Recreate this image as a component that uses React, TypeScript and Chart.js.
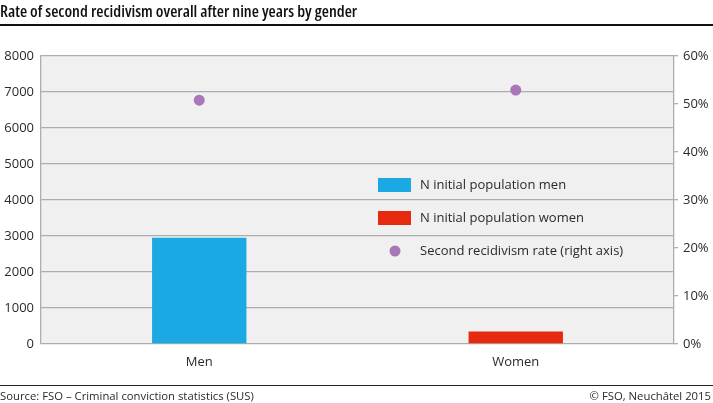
import React, { useEffect, useRef } from 'react';
import { Chart, registerables } from 'chart.js';

Chart.register(...registerables);

const categories = ['Men', 'Women'];
const menPopulation = [2950, null];
const womenPopulation = [null, 350];
const recidivismRate = [50.8, 52.9];
const seriesLabels = ['N initial population men', 'N initial population women', 'Second recidivism rate (right axis)'];
const leftRange = [0, 8000, 1000];
const rightRange = [0, 60, 10];

const FONT = "'Open Sans', 'Noto Sans', sans-serif";
const TEXT = '#2a2a2a';
const GRID = '#adadad';

const plotBackground = {
  id: 'plotBackground',
  beforeDraw(chart: any) {
    const { ctx, chartArea } = chart;
    ctx.save();
    ctx.fillStyle = '#f0f0f0';
    ctx.fillRect(chartArea.left, chartArea.top, chartArea.right - chartArea.left, chartArea.bottom - chartArea.top);
    ctx.restore();
  },
};

const innerLegend = {
  id: 'innerLegend',
  afterDraw(chart: any) {
    const { ctx, chartArea } = chart;
    const x0 = chartArea.left + 337;
    const y0 = chartArea.top + 129;
    const step = 33;
    ctx.save();
    ctx.font = `13px ${FONT}`;
    ctx.textBaseline = 'middle';
    ctx.fillStyle = TEXT;
    chart.data.datasets.forEach((ds: any, i: number) => {
      const cy = y0 + i * step;
      if (ds.type === 'line') {
        ctx.beginPath();
        ctx.fillStyle = ds.pointBackgroundColor;
        ctx.arc(x0 + 17, cy, 5.5, 0, Math.PI * 2);
        ctx.fill();
      } else {
        ctx.fillStyle = ds.backgroundColor;
        ctx.fillRect(x0, cy - 7, 33, 14);
      }
      ctx.fillStyle = TEXT;
      ctx.fillText(ds.label, x0 + 42, cy);
    });
    ctx.restore();
  },
};

function App() {
  const canvasRef = useRef<HTMLCanvasElement | null>(null);

  useEffect(() => {
    document.body.style.margin = '0';
    const canvas = canvasRef.current;
    if (!canvas) return;
    const chart = new Chart(canvas, {
      type: 'bar',
      data: {
        labels: categories,
        datasets: [
          {
            type: 'bar',
            label: seriesLabels[0],
            data: menPopulation,
            backgroundColor: '#1ba9e3',
            yAxisID: 'y',
            order: 2,
            skipNull: true,
          } as any,
          {
            type: 'bar',
            label: seriesLabels[1],
            data: womenPopulation,
            backgroundColor: '#e6290f',
            yAxisID: 'y',
            order: 2,
            skipNull: true,
          } as any,
          {
            type: 'line',
            label: seriesLabels[2],
            data: recidivismRate,
            showLine: false,
            pointRadius: 5.5,
            pointHoverRadius: 5.5,
            pointBackgroundColor: '#a877b8',
            pointBorderWidth: 0,
            pointBorderColor: '#a877b8',
            yAxisID: 'y1',
            order: 1,
          } as any,
        ],
      },
      options: {
        animation: false,
        responsive: true,
        maintainAspectRatio: false,
        layout: { padding: { top: 56, left: 0, right: 0, bottom: 0 } },
        datasets: { bar: { categoryPercentage: 0.6, barPercentage: 0.497 } },
        plugins: { legend: { display: false }, tooltip: { enabled: false } },
        scales: {
          x: {
            grid: { display: false, drawTicks: false },
            border: { display: false },
            ticks: { padding: 10, color: TEXT, font: { family: FONT, size: 13 } },
            afterFit: (s: any) => { s.height = 59; },
          },
          y: {
            position: 'left',
            min: leftRange[0],
            max: leftRange[1],
            ticks: {
              stepSize: leftRange[2],
              padding: 7,
              color: TEXT,
              font: { family: FONT, size: 13 },
              callback: (v: any) => String(v),
            },
            grid: { color: GRID, lineWidth: 1.3, drawTicks: false },
            border: { color: GRID, width: 1.3 },
            afterFit: (s: any) => { s.width = 41; },
          },
          y1: {
            position: 'right',
            min: rightRange[0],
            max: rightRange[1],
            ticks: {
              stepSize: rightRange[2],
              padding: 5,
              color: TEXT,
              font: { family: FONT, size: 13 },
              callback: (v: any) => `${v}%`,
            },
            grid: { drawOnChartArea: false, drawTicks: true, tickLength: 4, color: GRID, lineWidth: 1.3 },
            border: { color: GRID, width: 1.3 },
            afterFit: (s: any) => { s.width = 39; },
          },
        },
      } as any,
      plugins: [plotBackground, innerLegend],
    });
    return () => chart.destroy();
  }, []);

  return (
    <div style={{ position: 'relative', width: 713, height: 403, overflow: 'hidden', background: '#fff', fontFamily: FONT }}>
      <div style={{ position: 'absolute', left: 0, top: 0, width: 713, height: 403 }}>
        <canvas ref={canvasRef} />
      </div>
      <div
        style={{
          position: 'absolute',
          left: 0,
          top: 1,
          fontSize: 16.5,
          fontWeight: 600,
          fontStretch: 'condensed',
          color: '#111',
          whiteSpace: 'nowrap',
          lineHeight: '20px',
        }}
      >
        Rate of second recidivism overall after nine years by gender
      </div>
      <div style={{ position: 'absolute', left: 0, top: 24, width: 713, height: 2, background: '#111' }} />
      <div style={{ position: 'absolute', left: 0, top: 385, width: 713, height: 1, background: '#222' }} />
      <div style={{ position: 'absolute', left: 0, top: 389, fontSize: 11.3, color: TEXT, lineHeight: '14px', whiteSpace: 'nowrap' }}>
        Source: FSO – Criminal conviction statistics (SUS)
      </div>
      <div style={{ position: 'absolute', right: 2, top: 389, fontSize: 11.3, color: TEXT, lineHeight: '14px', whiteSpace: 'nowrap' }}>
        © FSO, Neuchâtel 2015
      </div>
    </div>
  );
}

export default App;
